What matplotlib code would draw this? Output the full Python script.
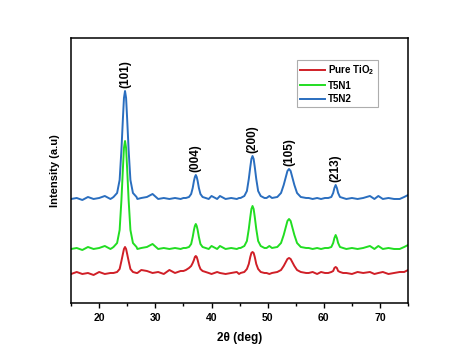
import matplotlib
matplotlib.use("Agg")
import matplotlib.pyplot as plt
from matplotlib.ticker import MultipleLocator

plt.rcParams['font.family'] = ['Liberation Sans', 'DejaVu Sans']
plt.rcParams['font.weight'] = 'bold'
plt.rcParams['mathtext.fontset'] = 'custom'
plt.rcParams['mathtext.bf'] = 'Liberation Sans:bold'
plt.rcParams['mathtext.rm'] = 'Liberation Sans:bold'

# 2-theta sample points (deg)
two_theta = [15, 16, 17, 18, 19, 20, 21, 22, 22.3,
             22.55, 23.19, 23.64, 23.96, 24.22, 24.41, 24.6, 24.79, 24.98, 25.24, 25.56, 26.01, 26.65,
             26.8, 27.5, 28.5, 29.5, 30.5, 31.5, 32.5, 33.5, 34.5, 35.0,
             35.44, 35.99, 36.375, 36.65, 36.87, 37.035, 37.2, 37.365, 37.53, 37.75, 38.025, 38.41, 38.96,
             39.5, 40.0, 41.0, 41.5, 42.5, 43.5, 44.5, 44.9,
             45.17, 45.84, 46.3, 46.635, 46.9, 47.1, 47.3, 47.5, 47.7, 47.965, 48.3, 48.76, 49.43,
             49.8, 50.3,
             50.76, 51.71, 52.375, 52.85, 53.23, 53.515, 53.8, 54.085, 54.37, 54.75, 55.225, 55.89, 56.84,
             57.3, 58.0, 58.8, 59.5, 60.2,
             60.78, 61.33, 61.66, 61.88, 62.1, 62.32, 62.54, 62.87, 63.42,
             64, 65, 66, 67, 68.2, 69, 69.7, 70.5, 71.5, 72.5, 73.5, 74.3, 75]

# intensities (a.u., stacked offsets as drawn)
t5n2 = [104, 105, 103, 106, 104, 105, 107, 104, 105,
        106, 110, 123, 153, 184, 205, 212, 205, 184, 153, 123, 110, 106,
        104, 105, 106, 109, 104, 105, 104, 105, 104, 105,
        105, 106, 109, 115, 122, 126, 128, 126, 122, 115, 109, 106, 105,
        104, 107, 104, 107, 104, 105, 104, 105,
        105, 107, 112, 124, 136, 144, 147, 144, 136, 124, 112, 107, 105,
        105, 107,
        105, 106, 110, 118, 126, 132, 134, 132, 126, 118, 110, 106, 105,
        105, 104, 105, 104, 105,
        105, 106, 110, 115, 118, 115, 110, 106, 105,
        104, 105, 104, 105, 107, 104, 107, 104, 105, 104, 104, 106, 108]

t5n1 = [54, 55, 53, 56, 54, 55, 57, 54, 55,
        56, 60, 73, 103, 134, 155, 162, 155, 134, 103, 73, 60, 56,
        54, 55, 56, 59, 54, 55, 54, 55, 54, 55,
        55, 56, 59, 66, 73, 77, 79, 77, 73, 66, 59, 56, 55,
        54, 57, 54, 57, 54, 55, 54, 55,
        55, 57, 62, 74, 86, 94, 97, 94, 86, 74, 62, 57, 55,
        55, 57,
        55, 56, 60, 68, 76, 82, 84, 82, 76, 68, 60, 56, 55,
        55, 54, 55, 54, 55,
        55, 56, 60, 65, 68, 65, 60, 56, 55,
        54, 55, 54, 55, 57, 54, 57, 54, 55, 54, 54, 56, 58]

pure_tio2 = [29, 31, 29, 30, 28, 31, 29, 30, 30,
             30, 31, 34, 42, 49, 54, 56, 54, 49, 42, 34, 31, 30,
             30, 33, 32, 30, 31, 29, 33, 30, 32, 32,
             33, 35, 37, 40, 43, 46, 47, 46, 43, 38, 34, 32, 31,
             30, 29, 31, 30, 29, 30, 31, 29,
             30, 31, 34, 39, 46, 50, 51, 50, 46, 39, 34, 31, 30,
             30, 29,
             30, 31, 33, 37, 41, 44, 45, 44, 41, 37, 33, 31, 30,
             30, 31, 29, 31, 30,
             30, 31, 32, 35, 36, 35, 32, 31, 30,
             30, 29, 31, 30, 31, 29, 30, 31, 29, 30, 31, 31, 33]

series_names = ['Pure TiO$_\\mathbf{2}$', 'T5N1', 'T5N2']
colors = ['#d01f27', '#22dd22', '#2a6ebf']

peak_labels = ['(101)', '(004)', '(200)', '(105)', '(213)']
peak_pos = [24.6, 37.2, 47.3, 53.8, 62.1]
peak_top = [212, 128, 147, 134, 118]

fig = plt.figure(figsize=(4.74, 3.55), dpi=100)
ax = fig.add_axes([0.150, 0.1465, 0.711, 0.7465])

for y, name, c in zip([pure_tio2, t5n1, t5n2], series_names, colors):
    ax.plot(two_theta, y, color=c, lw=1.4, label=name)

for lab, px, py in zip(peak_labels, peak_pos, peak_top):
    ax.annotate(lab, (px, py), xytext=(0, 2), textcoords='offset points',
                rotation=90, ha='center', va='bottom', fontsize=8.5,
                fontweight='bold')

ax.set_xlim(15, 75)
ax.set_ylim(0, 265)
ax.set_yticks([])
ax.xaxis.set_major_locator(MultipleLocator(10))
ax.xaxis.set_minor_locator(MultipleLocator(5))
ax.tick_params(axis='x', which='major', length=3.5, width=1, labelsize=7.5, pad=4)
ax.tick_params(axis='x', which='minor', length=2.5, width=1)
for lbl in ax.get_xticklabels():
    lbl.set_fontweight('bold')
for s in ax.spines.values():
    s.set_linewidth(1.1)

ax.set_xlabel('2θ (deg)', fontsize=8.5, fontweight='bold', labelpad=6)
ax.set_ylabel('Intensity (a.u)', fontsize=8, fontweight='bold', labelpad=8)

leg = ax.legend(loc='upper right', bbox_to_anchor=(0.925, 0.935), fontsize=7,
                frameon=True, fancybox=False, handlelength=2.6,
                handletextpad=0.3, borderpad=0.35, labelspacing=0.35)
leg.get_frame().set_edgecolor('#999999')
leg.get_frame().set_linewidth(0.8)
for t in leg.get_texts():
    t.set_fontweight('bold')

fig.savefig('out.png', dpi=100)
